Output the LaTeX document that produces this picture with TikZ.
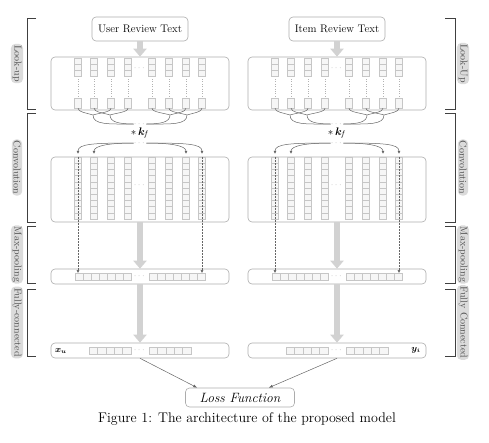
\documentclass[tikz,border=0pt]{standalone}
\usepackage{amsmath,amssymb}
\usepackage{tikz}
\usetikzlibrary{arrows.meta,positioning,shapes}

\tikzset{
  stage/.style={draw=gray!65,rounded corners=4pt,line width=0.6pt,
    minimum width=178pt,inner sep=0pt},
  titlebox/.style={draw=gray!65,rounded corners=4pt,line width=0.6pt,
    minimum width=96pt,minimum height=24pt,inner sep=2pt,
    font=\fontsize{11}{13}\selectfont},
  cell/.style={draw=gray!45,fill=gray!7,line width=0.4pt,inner sep=0pt},
  bigarrow/.style={draw=gray!35,line width=6pt,-{Triangle[width=13pt,length=8pt]}},
  link/.style={draw=black!60,line width=0.5pt},
  tip/.style={-{Latex[length=3pt,width=3pt]}},
  bracket/.style={draw=black!75,line width=0.9pt},
  phase/.style={fill=gray!28,rounded corners=4.5pt,rotate=-90,inner sep=1.6pt,
    text=black!70,font=\fontsize{10}{12}\selectfont},
  dots/.style={text=gray!60,inner sep=0pt,font=\fontsize{9}{10}\selectfont},
}

\begin{document}
\begin{tikzpicture}[x=1pt,y=-1pt]
\useasboundingbox (0,0) rectangle (489,442);

% the two towers, user and item
\foreach \s/\cx/\txt/\lx/\outv in {L/140/User Review Text/-79/x_u,R/337/Item Review Text/79/y_i}{

  \node[titlebox] (title\s) at (\cx,29) {\txt};

  % look-up layer
  \node[stage,minimum height=53pt] (look\s) at (\cx,83.5) {};
  \draw[bigarrow] (title\s.south) -- (look\s.north);
  \foreach \off [count=\i] in {-62,-46,-29,-12,12,29,46,62}{
    \pgfmathsetmacro\xx{\cx+\off}
    \foreach \k in {0,1,2}
      \draw[cell] (\xx-3.5,58+6*\k) rectangle +(7,6);
    \draw[gray!60,dotted] (\xx,79) -- (\xx,96);
    \node[cell,minimum width=7pt,minimum height=10pt] (b\s\i) at (\xx,103) {};
  }
  \node[dots] (ldots\s) at (\cx,68) {$\cdots$};

  % filter k
  \coordinate (j\s1) at (\cx-47,115);
  \coordinate (j\s2) at (\cx-30,115);
  \coordinate (j\s3) at (\cx+30,115);
  \coordinate (j\s4) at (\cx+47,115);
  \node[dots] (kin\s) at (\cx,124) {$\cdots$};
  \node[inner sep=1pt,font=\fontsize{11}{13}\selectfont] (k\s) at (\cx,133)
    {$*\,\boldsymbol{k}_{\!f}$};
  \node[dots] (kout\s) at (\cx,143) {$\cdots$};
  \draw[link] (b\s1.south) .. controls +(0,4) and +(-6,-2) .. (j\s1);
  \draw[link] (b\s3.south) .. controls +(0,4) and +(6,-2) .. (j\s1);
  \draw[link] (b\s2.south) .. controls +(0,4) and +(-6,-2) .. (j\s2);
  \draw[link] (b\s4.south) .. controls +(0,4) and +(6,-2) .. (j\s2);
  \draw[link] (b\s5.south) .. controls +(0,4) and +(-6,-2) .. (j\s3);
  \draw[link] (b\s7.south) .. controls +(0,4) and +(6,-2) .. (j\s3);
  \draw[link] (b\s6.south) .. controls +(0,4) and +(-6,-2) .. (j\s4);
  \draw[link] (b\s8.south) .. controls +(0,4) and +(6,-2) .. (j\s4);
  \draw[link] (j\s1) .. controls +(0,10) and +(-25,0) .. (kin\s.west);
  \draw[link] (j\s2) .. controls +(0,7) and +(-15,0) .. (kin\s.west);
  \draw[link] (j\s3) .. controls +(0,7) and +(15,0) .. (kin\s.east);
  \draw[link] (j\s4) .. controls +(0,10) and +(25,0) .. (kin\s.east);

  % convolution layer
  \node[stage,minimum height=65pt] (conv\s) at (\cx,189.5) {};
  \foreach \off [count=\i] in {-62,-46,-29,-12,12,29,46,62}{
    \pgfmathsetmacro\xx{\cx+\off}
    \node[cell,minimum width=7pt,minimum height=62pt] (cv\s\i) at (\xx,188) {};
    \foreach \k in {1,...,9}
      \draw[gray!45,line width=0.3pt] (\xx-3.5,157+6.2*\k) -- +(7,0);
  }
  \node[dots] (cdots\s) at (\cx,185) {$\cdots$};
  \draw[link,tip] (kout\s.west) .. controls +(-40,0) and +(0,-10) .. ([yshift=3pt]cv\s1.north);
  \draw[link,tip] (kout\s.west) .. controls +(-25,0) and +(0,-8) .. ([yshift=3pt]cv\s2.north);
  \draw[link,tip] (kout\s.east) .. controls +(25,0) and +(0,-8) .. ([yshift=3pt]cv\s7.north);
  \draw[link,tip] (kout\s.east) .. controls +(40,0) and +(0,-10) .. ([yshift=3pt]cv\s8.north);

  % max-pooling layer
  \node[stage,minimum height=15pt] (pool\s) at (\cx,276.5) {};
  \draw[bigarrow] (conv\s.south) -- (pool\s.north);
  \foreach \k in {0,...,6}{
    \draw[cell] (\cx-65+8*\k,273) rectangle +(8,7);
    \draw[cell] (\cx+9+8*\k,273) rectangle +(8,7);
  }
  \node[dots] (pdots\s) at (\cx,276.5) {$\cdots$};
  \coordinate (pin\s1) at (\cx-62,273);
  \coordinate (pin\s2) at (\cx+62,273);
  \draw[link,densely dotted,tip] (cv\s1.north) -- (pin\s1);
  \draw[link,densely dotted,tip] (cv\s8.north) -- (pin\s2);

  % fully-connected layer
  \node[stage,minimum height=15pt] (fc\s) at (\cx,350.5) {};
  \draw[bigarrow] (pool\s.south) -- (fc\s.north);
  \foreach \k in {0,...,4}{
    \draw[cell] (\cx-51+8.4*\k,347) rectangle +(8.4,7);
    \draw[cell] (\cx+9+8.4*\k,347) rectangle +(8.4,7);
  }
  \node[dots] (fdots\s) at (\cx,350.5) {$\cdots$};
  \node[inner sep=0pt,font=\fontsize{9}{10}\selectfont] (vec\s) at (\cx+\lx,350.5)
    {$\boldsymbol{\outv}$};
}

% loss
\node[stage,minimum width=109pt,minimum height=19pt,
  font=\fontsize{13.5}{15}\selectfont\itshape] (loss) at (240,397.5) {Loss Function};
\draw[link,-{Latex[length=4pt,width=3pt]}] (fcL.south) -- ([xshift=12pt]loss.north west);
\draw[link,-{Latex[length=4pt,width=3pt]}] (fcR.south) -- ([xshift=-26pt]loss.north east);

% brackets on both sides
\foreach \ya/\yb/\ltxt/\rtxt [count=\i] in {18/109/Look-up/Look-Up,
    113/222/Convolution/Convolution,226/283/Max-pooling/Max-pooling,
    289/356/Fully-connected/Fully Connected}{
  \pgfmathsetmacro\ym{(\ya+\yb)/2}
  \draw[bracket] (36,\ya) -- (27,\ya) -- (27,\yb) -- (36,\yb);
  \draw[bracket] (445,\ya) -- (455,\ya) -- (455,\yb) -- (445,\yb);
  \node[phase] (phaseL\i) at (17,\ym) {\ltxt};
  \node[phase] (phaseR\i) at (463,\ym) {\rtxt};
}

\node[font=\fontsize{14}{16}\selectfont] (caption) at (247,419)
  {Figure 1: The architecture of the proposed model};
\end{tikzpicture}
\end{document}
